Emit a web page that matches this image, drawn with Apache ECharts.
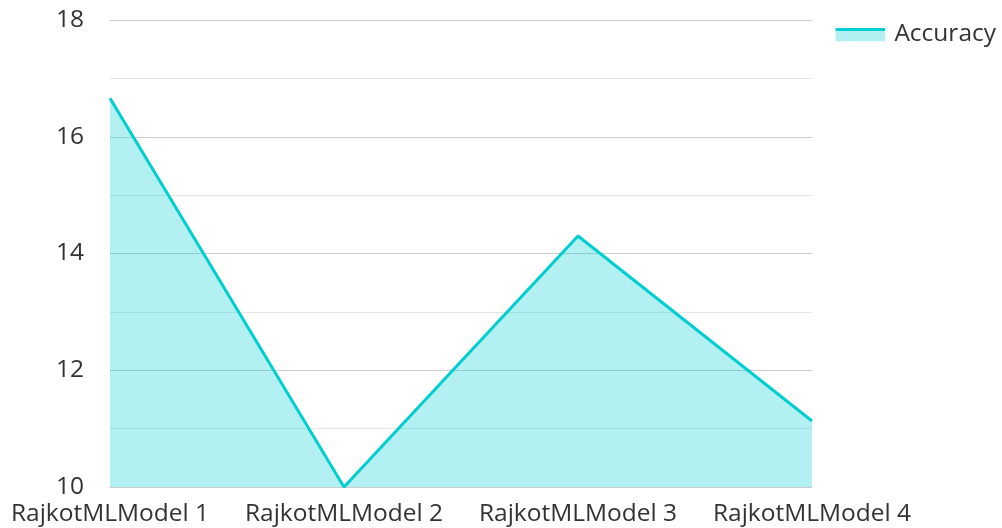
<html>
<head>
    <meta charset="utf-8">
    <script src="https://cdn.jsdelivr.net/npm/echarts@6/dist/echarts.min.js"></script>
</head>
<body style="margin:0">
<div id="main" style="width:1002px;height:528px;"></div>
<script>
    // data
    const models = ['RajkotMLModel 1', 'RajkotMLModel 2', 'RajkotMLModel 3', 'RajkotMLModel 4'];
    const accuracy = [16.66, 10.0, 14.3, 11.13];

    const chart = echarts.init(document.getElementById('main'));
    const font = "'Open Sans', sans-serif";
    const lineColor = '#00CED1';

    // legend icon: line on top, light area under it
    const iconSvg = '<svg xmlns="http://www.w3.org/2000/svg" width="50" height="14">' +
        '<rect x="0" y="0" width="50" height="14" fill="#b2f0f1"/>' +
        '<rect x="0" y="0" width="50" height="3.5" fill="#00CED1"/></svg>';
    const icon = 'image://data:image/svg+xml;charset=utf-8,' + encodeURIComponent(iconSvg);

    chart.setOption({
        animation: false,
        textStyle: {fontFamily: font},
        legend: {
            data: [{name: 'Accuracy', icon: icon}],
            right: 1,
            top: 17,
            itemWidth: 50,
            itemHeight: 14,
            itemGap: 10,
            textStyle: {fontSize: 24.5, color: '#333', fontFamily: font, padding: [0, 0, 2, 4]}
        },
        grid: {left: 110, right: 190, top: 20, bottom: 41},
        xAxis: {
            type: 'category',
            data: models,
            boundaryGap: false,
            axisLine: {show: false},
            axisTick: {show: false},
            axisLabel: {fontSize: 24.5, color: '#333', margin: 15, interval: 0, fontFamily: font}
        },
        yAxis: {
            type: 'value',
            min: 10,
            max: 18,
            interval: 2,
            axisLine: {show: false},
            axisTick: {show: false},
            axisLabel: {fontSize: 24.5, color: '#333', margin: 26, fontFamily: font},
            splitLine: {lineStyle: {color: '#ccc', width: 1}},
            minorTick: {show: false, splitNumber: 2},
            minorSplitLine: {show: true, lineStyle: {color: '#e6e6e6', width: 1}}
        },
        series: [{
            name: 'Accuracy',
            type: 'line',
            data: accuracy,
            symbol: 'none',
            lineStyle: {color: lineColor, width: 3},
            itemStyle: {color: lineColor},
            areaStyle: {color: lineColor, opacity: 0.3}
        }]
    });
</script>
</body>
</html>
